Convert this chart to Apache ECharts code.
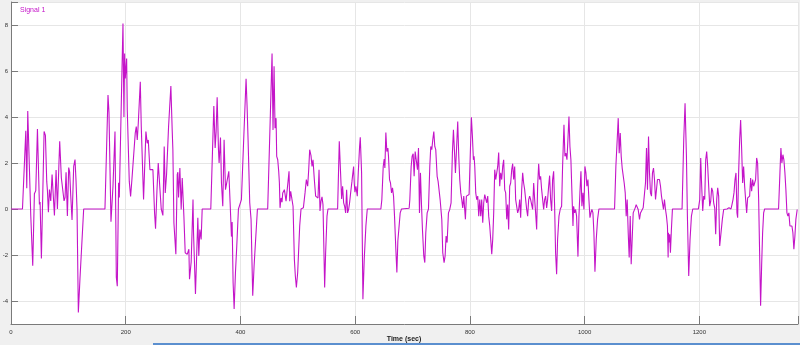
<!DOCTYPE html>
<html><head><meta charset="utf-8">
<script src="https://cdn.jsdelivr.net/npm/echarts@6/dist/echarts.min.js"></script>
<style>html,body{margin:0;padding:0;background:#f0f0f0}#c{width:800px;height:345px}</style>
</head><body><div id="c"></div>
<script>
const seriesName = 'Signal 1';
const xTitle = 'Time (sec)';
const xTicks = [0, 200, 400, 600, 800, 1000, 1200];
const yTicks = [-4, -2, 0, 2, 4, 6, 8];
// [time (sec), value]
const signal1 = [
[0,0],[20,0],[25.8,3.4],[27.5,0.9],[29.2,4.26],[34.5,-0.3],[36.2,-0.35],[37.9,-2.47],[40.8,0.66],[43.2,0.8],[46.1,3.48],[47.8,3.4],[49.5,0.2],[50.7,0.3],[53,-2.15],[57.7,3.37],[60,3.2],[62.3,1.2],[63.5,0.8],[65.2,-0.14],[67,0.85],[69.3,0.35],[71.6,1.5],[75.7,-0.28],[78.6,1.7],[80.9,0],[84.9,2.95],[87.8,1.35],[90.2,1.35],[92.5,0.35],[94.2,0.5],[96,1.6],[98.3,-0.3],[100.6,1.8],[102.3,1.6],[104.1,0.6],[106.4,-0.48],[109.3,1.85],[111.6,2.15],[113.4,1.2],[115.1,0],[117.4,-4.5],[120.3,-3.0],[126.7,0],[163.8,0],
[169.1,4.96],[170.8,4.2],[174.3,-0.55],[177.8,1.0],[181.3,3.37],[183.6,-2.97],[185.3,-3.36],[187.6,1.14],[188.8,0.5],[195.2,8.06],[196.9,4.0],[198.1,6.76],[199.2,5.68],[201.6,6.54],[202.7,4.3],[206.2,1.2],[208.5,0.55],[210.8,1.28],[213.7,1.28],[216.6,3.3],[218.4,3.58],[220.1,3.0],[221.9,3.73],[225.4,5.53],[227.1,3.59],[231.1,0.41],[235.2,3.37],[237.5,2.86],[239.3,3.0],[242.2,1.71],[247.4,1.71],[250.3,-0.17],[252,-0.86],[254.4,0.77],[256.7,2.0],[261.9,0],[264.8,-0.28],[267.1,2.72],[268.9,0.7],[271.2,1.5],[274.7,3.59],[277,3.66],[278.7,5.35],[281,3.44],[282.2,2.58],[284,-0.6],[287.4,-1.97],[289.8,1.49],[290.9,1.6],[292.1,0.5],[294.4,1.78],[296.7,-0.02],[298.5,1.35],[301.4,-0.31],[303.7,-1.9],[307.2,-1.97],[310.1,-1.75],[311.2,-3.05],[314.1,-2.3],[317.3,0.41],
[318.2,-1.03],[321.6,-3.7],[325.7,-0.38],[327.4,-2.04],[329.2,-0.89],[331.5,-1.32],[333.3,0],[348.3,0],[353.6,4.48],[355.9,2.65],[357.6,3.37],[359.4,4.86],[361.7,2.58],[362.8,2.0],[365.2,3.11],[366.9,1.13],[369.2,0.12],[371.5,3.01],[373.9,0.84],[376.2,0.84],[379.7,1.64],[382,0.27],[384.3,-1.2],[385.5,-0.57],[387.2,-3.2],[389,-4.35],[391.3,-2.76],[393.6,-1.61],[396.5,0],[398.2,0.05],[401.7,0.41],[405.2,2.72],[409.8,5.66],[411.6,4.45],[413.3,3.01],[416.2,0.27],[418.5,-0.45],[421.4,-3.77],[423.8,-2.47],[429.6,0],[447.5,0],[452.2,4.16],[455.1,6.76],[456.8,3.44],[458.6,6.21],[460.3,3.51],[462.1,3.95],[463.2,2.29],[465,2.14],[466.7,1.64],[467.9,1.13],[469,0.05],[470.8,0.48],[472.5,0.3],[473.7,0.7],[476,0.77],
[476.6,0.84],[479.5,0.34],[481.2,0.77],[483,1.2],[484.7,1.64],[485.9,0.34],[487.6,0.77],[489.4,0.48],[491.7,0.12],[494,-2.19],[495.7,-2.91],[497.5,-3.41],[499.8,-2.76],[503.3,-0.74],[505.6,0],[509.7,0.05],[512.6,0.7],[514.9,1.28],[517.2,0.99],[519,1.71],[520.7,2.58],[523,2.32],[524.8,1.85],[526.5,2.14],[528.8,1.28],[531.1,0.56],[533.5,0.53],[535.2,0.48],[537,1.71],[538.7,-0.09],[540.4,0.34],[542.2,0.53],[543.9,0.19],[545.6,-1.9],[546.8,-3.41],[548.5,-1.9],[550.9,-0.31],[552.6,0],[569.4,0],[572.3,2.94],[574.1,1.85],[576.4,0.44],[578.1,0.99],[579.9,0.27],[581.6,0.12],[583.4,-0.17],[585.1,0.84],[586.8,-0.17],[588.6,-0.02],[590.3,0.27],[592.1,0.7],[594.4,1.2],[596.1,1.59],[597.3,1.85],[598.4,1.13],[599.6,0.73],[601.3,0.99],[603.7,0.56],[605.4,1.57],[607.7,2.72],[608.9,3.12],[611.2,1.57],[613.5,-3.92],[615.8,-2.19],[618.7,-0.74],[621.1,0],[644.8,0],
[646.5,0.41],[648.9,1.85],[650.6,2.17],[651.8,1.78],[653.5,3.33],[655.2,2.5],[657,2.65],[658.1,2.29],[659.9,1.28],[661.6,1.13],[663.4,0.7],[665.1,0.92],[666.9,0.56],[668.6,-0.31],[670.9,-1.75],[672.7,-2.76],[674.4,-1.39],[676.1,-0.89],[678.5,-0.17],[680.8,0],[694.1,0.03],[695.3,0.41],[697.6,1.85],[699.3,2.29],[701.1,2.4],[702.8,1.42],[704.6,2.5],[706.9,2.58],[708.6,1.71],[710.4,2.65],[712.1,-0.17],[713.8,1.57],[715.6,0.19],[717.3,-0.89],[719.6,-2.04],[721.4,-2.33],[723.1,-1.03],[725.5,-0.17],[727.8,0],[730.1,1.85],[731.8,2.72],[733.6,2.58],[735.3,3.01],[737.1,3.37],[738.8,2.72],[740.5,2.58],[742.9,1.42],[744.6,1.2],[746.3,1.28],[748.1,0.41],[749.8,0.34],[751,-0.45],[752.7,-1.9],[755,-2.33],[756.8,-2.04],[758.5,-1.18],[760.3,-1.46],[762.6,-0.17],[764.9,-0.02],[767.2,0.27],[769.5,2.43],[771.3,3.44],[773,2.58],[774.8,1.57],[776.5,2.5],[778.8,3.8],[780.6,2.29],[782.3,1.28],[784.1,0.7],[785.8,0.41],[787.5,0.05],[789.3,0.56],[791,0.56],[792.2,-0.45],[793.9,0.56],[796.2,0.63],[798.6,0.63],[800.9,0.7],[802.6,3.99],[804.4,3.15],[806.1,2.14],
[807.3,2.29],[808.5,1.85],[810.2,0.7],[811.9,0.41],[813.7,0.56],[815.4,-0.31],[817.2,0.41],[818.9,-0.31],[820.6,0.41],[822.4,-0.6],[824.1,0.27],[825.9,0.63],[827.6,0.63],[829.3,0.27],[831.1,0.56],[832.8,-0.31],[834.6,-0.74],[836.3,-1.32],[838.1,-1.97],[839.8,-1.32],[841.5,-0.17],[843.3,1.71],[845,1.28],[846.8,1.57],[848.5,1.85],[850.2,2.46],[852,0.99],[853.7,1.57],[855.5,1.28],[857.2,1.85],[858.9,2.14],[860.7,0.84],[862.4,0.7],[864.2,-0.45],[865.9,0.19],[867.6,-0.89],[869.4,0.99],[871.1,1.13],[872.9,1.71],[874.6,1.97],[876.3,1.28],[878.1,1.85],[879.8,0.41],[881.6,0.34],[883.3,-0.17],[885,-0.02],[886.8,0.41],[888.5,-0.38],[890.3,0.84],[892,1.57],[893.7,1.13],[895.5,0.84],[897.2,0.41],[899,-0.02],[900.7,-0.31],[902.5,0.41],[904.2,0.56],[905.9,0.41],[907.7,0.41],[909.4,-0.02],[911.2,1.13],[912.9,0.41],[914.6,-0.17],[916.4,-0.89],[918.1,0.99],[919.9,1.97],[921.6,1.28],[923.3,1.42],[925.1,0.84],[926.8,0.77],[928.6,-0.02],[930.3,0.41],[932,0.56],[933.8,0.05],[935.5,0.41],[937.3,0.99],[939,1.45],[940.7,0.41],[942.5,-0.09],[944.2,1.28],[946,1.64],[947.7,0.12],[949.4,-1.9],[951.2,-2.84],[952.9,-1.32],[955.3,-0.31],[957.6,0],[959.9,0.12],[961.6,1.85],[964,3.66],[965.7,2.29],[967.4,2.43],[969.2,2.14],[970.9,3.01],[972.7,4.02],[974.4,2.72],[976.1,2.14],[977.9,0.7],[979.7,-0.74],
[980.8,0.12],[982.6,-0.17],[984.3,-0.02],[986,-0.31],[988.4,-2.07],[990.1,-0.31],[991.8,0.7],[993.6,1.64],[995.3,0.12],[997.1,0.7],[998.8,-0.02],[1000.5,1.85],[1002.3,1.57],[1004,0.99],[1005.8,1.28],[1007.5,0.41],[1009.3,-0.38],[1011,-0.17],[1012.7,-0.02],[1014.5,-0.17],[1016.2,-1.03],[1018,-2.73],[1020.3,-1.32],[1022.6,-0.45],[1024.9,0],[1052.2,0],[1054.5,1.85],[1056.8,3.01],[1058.6,3.95],[1060.3,2.43],[1062.1,3.3],[1063.8,2.29],[1065.5,1.78],[1067.3,1.78],[1069,1.13],[1070.8,0.7],[1072.5,-0.31],[1074.2,0.41],[1076,-1.03],[1077.7,-2.11],[1079.5,-0.31],[1081.2,-2.4],[1082.9,-1.32],[1084.7,-0.17],[1086.4,-0.09],[1088.2,0.05],[1089.9,0.19],[1091.6,0.27],[1093.4,-0.02],[1095.7,-0.45],[1097.4,-0.17],[1099.8,-0.09],[1102.1,0.05],[1104.4,0.12],[1106.1,1.13],[1107.9,2.65],[1109.6,0.84],[1111.4,3.15],[1113.1,1.57],[1114.8,0.7],[1116.6,0.56],[1118.3,1.57],[1120.1,1.78],[1121.8,1.28],[1123.6,0.41],[1125.3,0.34],[1127,1.28],[1128.8,1.2],[1130.5,1.28],[1132.3,0.99],[1134,0.56],[1135.7,0.48],[1137.5,-0.02],[1139.2,0.41],[1141,-0.02],[1142.7,-0.31],[1144.4,-0.74],[1145.6,-2.11],
[1146.1,-1.03],[1147.3,-1.46],[1148.4,-1.1],[1149.6,-1.9],[1151.3,-0.89],[1153.1,0],[1169.9,0],[1172.8,3.01],[1175.1,4.6],[1177.5,2.29],[1179.2,-0.31],[1181.5,-2.91],[1183.8,-1.32],[1186.2,-0.31],[1188.5,0],[1198.3,0],[1200.7,0.41],[1202.4,2.22],[1204.1,0.99],[1205.9,-0.09],[1207.6,0.56],[1209.4,0.41],[1211.1,2.14],[1212.8,2.5],[1214.6,1.85],[1216.3,0.99],[1218.1,0.12],[1219.8,0.34],[1221.5,0.92],[1223.3,0.77],[1225,0.27],[1226.8,0.05],[1228.5,-1.1],[1230.3,0.41],[1232,0.92],[1233.7,0.56],[1235.5,-1.61],[1237.8,-1.61],[1240.1,-0.45],[1242.4,-0.02],[1244.8,0.05],[1248.2,0],[1251.7,0.05],[1255.2,0],[1256.9,0.19],[1258.7,0.41],[1260.4,0.7],[1262.2,1.28],[1263.9,1.57],[1265.6,-0.17],[1266.8,-0.38],[1268.5,1.57],[1270.3,3.01],[1272,3.87],[1273.8,2.58],[1275.5,1.13],[1277.2,1.85],[1279,0.99],[1280.7,0.41],[1282.5,-0.17],[1284.2,0.48],[1285.9,0.56],[1287.7,0.56],[1289.4,1.35],[1291.2,0.77],[1292.9,1.28],[1294.7,0.99],[1296.4,1.13],[1298.1,1.28],[1299.9,2.22],[1301.6,2.0],[1303.4,0.41],[1305.1,-1.9],[1306.8,-4.21],[1308.6,-2.47],[1310.3,-1.03],[1312.1,-0.17],
[1313.8,0],[1338.1,0],[1340.5,1.57],[1342.2,2.65],[1343.9,2.0],[1345.7,2.36],[1347.4,2.14],[1349.2,1.57],[1350.9,0.84],[1352.7,-0.17],[1354.4,-0.31],[1356.1,-0.17],[1357.9,-0.74],[1359.6,-0.67],[1361.4,-0.74],[1363.1,-1.03],[1364.8,-1.75],[1366.6,-1.18],[1368.3,-0.45],[1370.6,-0.02]
];

const lineColor = '#c414c8';
const chart = echarts.init(document.getElementById('c'), null, {renderer: 'canvas'});
chart.setOption({
  backgroundColor: '#f0f0f0',
  animation: false,
  textStyle: {fontFamily: 'Liberation Sans, Arial, sans-serif'},
  grid: {left: 11, right: 2, top: 2, bottom: 21, show: true, backgroundColor: '#ffffff', borderWidth: 0,
    containLabel: false, outerBoundsMode: 'none'},
  legend: {
    data: [seriesName], left: 9, top: 2, itemWidth: 0, itemHeight: 0, itemGap: 0,
    textStyle: {color: lineColor, fontSize: 7}, selectedMode: false
  },
  xAxis: {
    type: 'value', min: 0, max: 1372, interval: 200,
    axisLine: {onZero: false, lineStyle: {color: '#7a7a7a', width: 1}},
    axisTick: {inside: true, length: 8, lineStyle: {color: '#7a7a7a'}},
    axisLabel: {fontSize: 6, color: '#333', margin: 5,
      formatter: v => xTicks.indexOf(v) >= 0 ? String(v) : ''},
    splitLine: {show: true, lineStyle: {color: '#e6e6e6', width: 1}}
  },
  yAxis: {
    type: 'value', min: -5, max: 9, splitNumber: 7,
    axisLine: {show: true, lineStyle: {color: '#7a7a7a', width: 1}},
    axisTick: {show: true, inside: true, length: 7, lineStyle: {color: '#7a7a7a'}},
    axisLabel: {fontSize: 6, color: '#333', margin: 3,
      formatter: v => yTicks.indexOf(v) >= 0 ? String(v) : ''},
    splitLine: {show: true, lineStyle: {color: '#e6e6e6', width: 1}}
  },
  graphic: [
    {type: 'text', x: 404, y: 336, silent: true,
      style: {text: xTitle, fontSize: 7, fontWeight: 'bold', fill: '#222', align: 'center', verticalAlign: 'top',
        fontFamily: 'Liberation Sans, Arial, sans-serif'}},
    {type: 'rect', left: 153, top: 343, shape: {width: 647, height: 2}, style: {fill: '#5b8fcf'}, silent: true}
  ],
  series: [{
    name: seriesName, type: 'line', data: signal1, showSymbol: false, symbol: 'none',
    sampling: 'none', lineStyle: {color: lineColor, width: 1.1}, itemStyle: {color: lineColor}
  }]
});
</script></body></html>
